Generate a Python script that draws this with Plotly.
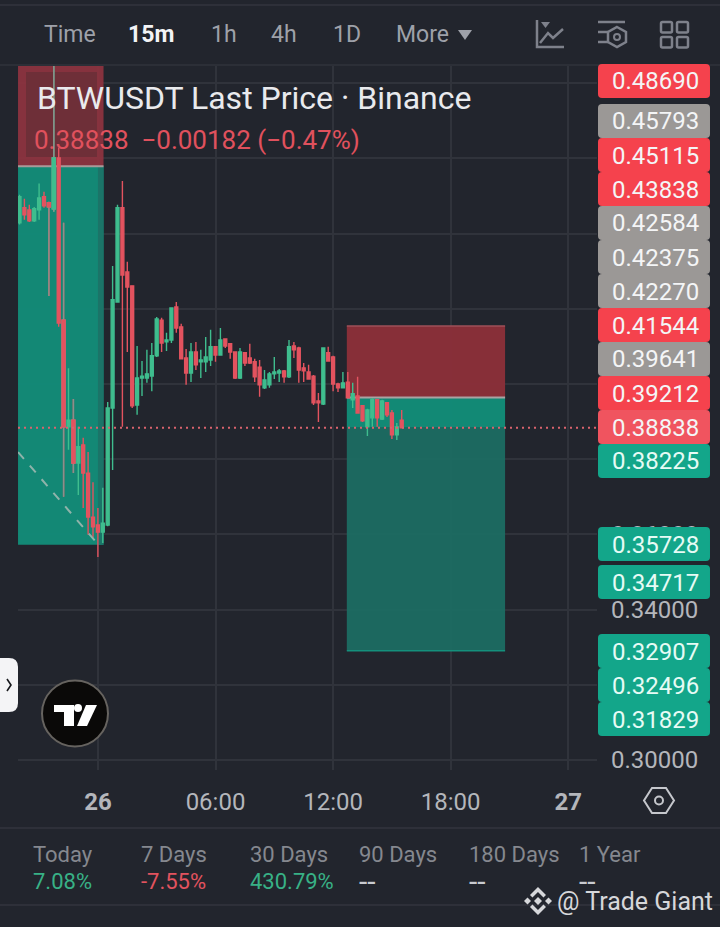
import plotly.graph_objects as go

W, H = 720, 927

# ---------- data ----------
idx = list(range(-16, 63))
opens = [.4429,.4469,.4463,.4434,.4463,.4498,.4482,.4466,.4601,.4170,.3886,.3904,.3790,.3838,.3763,.3646,.3625,.3606,.3625,.3936,.4218,.4469,.4298,.4261,.3944,.4016,.4016,.4021,.4075,.4170,.4112,.4117,.4205,.4152,.4069,.4029,.4085,.4059,.4059,.4064,.4099,.4077,.4120,.4107,.4085,.4016,.4083,.4069,.4059,.4045,.3990,.3998,.4027,.4029,.4035,.4019,.4101,.4096,.4043,.4032,.4021,.3955,.3947,.4083,.4072,.4000,.3990,.4005,.3958,.3968,.3942,.3886,.3910,.3958,.3907,.3950,.3923,.3865,.3904]
highs = [.4503,.4493,.4477,.4471,.4533,.4511,.4485,.4869,.4628,.4429,.4042,.3960,.3886,.3857,.3819,.3739,.3670,.3724,.3952,.4314,.4477,.4540,.4325,.4261,.4101,.4061,.4091,.4109,.4178,.4176,.4136,.4202,.4218,.4160,.4093,.4109,.4112,.4091,.4125,.4144,.4101,.4149,.4122,.4109,.4085,.4096,.4083,.4107,.4067,.4064,.4037,.4032,.4072,.4040,.4037,.4117,.4112,.4099,.4056,.4051,.4024,.3976,.4096,.4099,.4075,.4003,.4032,.4032,.4003,.4019,.3944,.3934,.3963,.3960,.3958,.3952,.3931,.3896,.3931]
lows = [.4424,.4437,.4431,.4431,.4437,.4469,.4234,.4458,.4152,.3700,.3825,.3763,.3705,.3670,.3599,.3591,.3540,.3577,.3622,.3771,.4216,.3886,.4085,.3936,.3918,.3968,.4003,.3981,.4072,.4085,.4088,.4109,.4136,.4067,.3998,.4005,.4037,.4016,.4032,.4048,.4059,.4077,.4096,.4067,.4013,.4013,.4048,.4053,.4005,.3966,.3987,.3990,.4013,.4005,.4003,.4016,.4069,.4003,.4005,.4011,.3944,.3899,.3944,.4059,.3981,.3979,.3990,.3963,.3936,.3923,.3899,.3862,.3886,.3886,.3904,.3912,.3854,.3851,.3883]
closes = [.4498,.4450,.4434,.4466,.4495,.4474,.4471,.4601,.4162,.3886,.3904,.3790,.3833,.3763,.3646,.3620,.3606,.3630,.3936,.4224,.4469,.4290,.4258,.3942,.4016,.4021,.4027,.4075,.4173,.4109,.4117,.4202,.4149,.4067,.4029,.4085,.4051,.4064,.4072,.4099,.4077,.4117,.4101,.4085,.4016,.4085,.4056,.4056,.4019,.3998,.4011,.4027,.4032,.4035,.4019,.4099,.4091,.4037,.4035,.4013,.3950,.3950,.4096,.4061,.4000,.3990,.4003,.3963,.3974,.3923,.3902,.3931,.3958,.3910,.3955,.3918,.3865,.3886,.38838]
muted_idx = [-10, -9, -7, -5]   # candles whose wicks are washed out by the zones

trend_x = [-16.3, 0.0]
trend_y = [.3819, .3574]

last_price = .38838

zone_a_left, zone_a_right = -16.3, 1.15
zone_a_strip = 0.0
zone_a_stop, zone_a_entry, zone_a_target = .4869, .45793, .35728
zone_a_inner = (-14.67, -0.18, .46037, .48298)
zone_b_left, zone_b_right = 50.8, 83.1
zone_b_stop, zone_b_entry, zone_b_target = .41544, .39641, .32907

x_tick_vals = [0, 24, 48, 72, 96]
x_tick_text = ["<b>26</b>", "06:00", "12:00", "18:00", "<b>27</b>"]
y_tick_vals = [.30, .32, .34, .36, .38, .40, .42, .44, .46, .48]
y_tick_text = ["0.30000", "", "0.34000", "0.36000", "", "", "", "", "", ""]

price_labels = ["0.48690","0.45793","0.45115","0.43838","0.42584","0.42375","0.42270","0.41544","0.39641","0.39212","0.38838","0.38225","0.35728","0.34717","0.32907","0.32496","0.31829"]
price_kinds  = ["r","g","r","r","g","g","g","r","g","r","p","t","t","t","t","t","t"]
price_tops   = [64,104,138,172,206,240,274,308,342,376,410,444,527,565,634,668,702]

periods = ["Today","7 Days","30 Days","90 Days","180 Days","1 Year"]
period_values = ["7.08%","-7.55%","430.79%","--","--","--"]
period_x = [33,141,250,359,469,579]
period_colors = ["#38b186","#e2535f","#38b186","#c9cbd1","#c9cbd1","#c9cbd1"]

intervals = ["Time","15m","1h","4h","1D","More"]
interval_x = [44,128,211,271,333,396]

# ---------- styling ----------
BG = "#22252d"
GRID = "#30333b"
GREEN = "#3fbd8e"
RED = "#e3535f"
MUTED = "#8d8f8b"
KIND = {"r": "#f5424d", "g": "#9b9896", "p": "#f0545f", "t": "#13a68a"}

PX0, PX1, PY0, PY1 = 18, 597, 65, 770
PER_CANDLE = 4.9
PER_UNIT = 3760.0
X_ZERO = 97.9
x_range = [(PX0 - X_ZERO) / PER_CANDLE, (PX1 - X_ZERO) / PER_CANDLE]
y_range = [.30 - (PY1 - 760) / PER_UNIT, .30 + (760 - PY0) / PER_UNIT]


def fx(x):
    return x / W


def fy(y):
    return 1 - y / H


def path_of(points, close=True):
    s = "M" + " L".join(f"{fx(x):.5f},{fy(y):.5f}" for x, y in points)
    return s + (" Z" if close else "")


def rrect(x0, y0, x1, y1, r):
    return (f"M{fx(x0+r):.5f},{fy(y0):.5f} L{fx(x1-r):.5f},{fy(y0):.5f} Q{fx(x1):.5f},{fy(y0):.5f} {fx(x1):.5f},{fy(y0+r):.5f} "
            f"L{fx(x1):.5f},{fy(y1-r):.5f} Q{fx(x1):.5f},{fy(y1):.5f} {fx(x1-r):.5f},{fy(y1):.5f} "
            f"L{fx(x0+r):.5f},{fy(y1):.5f} Q{fx(x0):.5f},{fy(y1):.5f} {fx(x0):.5f},{fy(y1-r):.5f} "
            f"L{fx(x0):.5f},{fy(y0+r):.5f} Q{fx(x0):.5f},{fy(y0):.5f} {fx(x0+r):.5f},{fy(y0):.5f} Z")


shapes, annos = [], []


def pshape(path, fill=None, line=None, width=0, layer="above"):
    shapes.append(dict(type="path", xref="paper", yref="paper", path=path, layer=layer,
                       fillcolor=fill if fill else "rgba(0,0,0,0)",
                       line=dict(color=line if line else "rgba(0,0,0,0)", width=width)))


def circle(cx, cy, r, fill=None, line=None, width=0):
    shapes.append(dict(type="circle", xref="paper", yref="paper", x0=fx(cx - r), x1=fx(cx + r),
                       y0=fy(cy + r), y1=fy(cy - r), layer="above",
                       fillcolor=fill if fill else "rgba(0,0,0,0)",
                       line=dict(color=line if line else "rgba(0,0,0,0)", width=width)))


def hline(x0, x1, y, color, width=1):
    shapes.append(dict(type="line", xref="paper", yref="paper", x0=fx(x0), x1=fx(x1), y0=fy(y), y1=fy(y),
                       line=dict(color=color, width=width), layer="above"))


def zone(x0, x1, y0, y1, color):
    shapes.append(dict(type="rect", xref="x", yref="y", x0=x0, x1=x1, y0=y0, y1=y1, fillcolor=color,
                       line=dict(width=0), layer="between"))


def edge(x0, x1, y, color, width=1.5):
    shapes.append(dict(type="line", xref="x", yref="y", x0=x0, x1=x1, y0=y, y1=y,
                       line=dict(color=color, width=width), layer="between"))


def text(x, y, s, size, color, anchor="left", weight=None):
    t = f"<b>{s}</b>" if weight else s
    annos.append(dict(xref="paper", yref="paper", x=fx(x), y=fy(y), text=t, showarrow=False,
                      xanchor=anchor, yanchor="middle", xshift=-2.5 if anchor == "left" else 0,
                      font=dict(family="Roboto", size=size, color=color)))


# zones
zone(zone_a_left, zone_a_right, zone_a_entry, zone_a_stop, "rgba(138,51,64,0.96)")
zone(zone_a_inner[0], zone_a_inner[1], zone_a_inner[2], zone_a_inner[3], "#6e2f38")
zone(zone_a_left, zone_a_right, zone_a_target, zone_a_entry, "rgba(19,139,120,0.97)")
zone(zone_a_strip, zone_a_right, zone_a_target, zone_a_entry, "#1b7468")
edge(zone_a_left, zone_a_right, zone_a_entry, "#a89a9a", 2)
zone(zone_b_left, zone_b_right, zone_b_entry, zone_b_stop, "rgba(138,48,57,0.97)")
edge(zone_b_left, zone_b_right, zone_b_stop, "#9e5058")
zone(zone_b_left, zone_b_right, last_price, zone_b_entry, "rgba(18,140,120,0.97)")
zone(zone_b_left, zone_b_right, zone_b_target, last_price, "rgba(28,107,98,0.96)")
edge(zone_b_left, zone_b_right, zone_b_entry, "#a9a3a3", 2)
edge(zone_b_left, zone_b_right, zone_b_target, "#14907c")

# last price line
shapes.append(dict(type="line", xref="paper", yref="y", x0=fx(PX0), x1=fx(PX1), y0=last_price, y1=last_price,
                   line=dict(color="#d9636e", width=2, dash="2px,4px"), layer="above"))

# separators
for yy in (5, 828, 905):
    hline(0, W, yy, "#3a3d46", 1)
hline(0, W, 65, "#2c2f37", 2)

# price labels
for lab, kind, top in zip(price_labels, price_kinds, price_tops):
    pshape(rrect(598, top, 710, top + 34, 4), fill=KIND[kind])
    text(655, top + 17.5, lab, 24, "#f4f5f6" if kind != "t" else "#e6fbf5", anchor="center")

# top bar
for name, x in zip(intervals, interval_x):
    bold = name == "15m"
    text(x, 35, name, 23, "#f2f3f5" if bold else "#9ea1a9", weight=bold)
pshape(path_of([(458, 30), (472, 30), (465, 40)]), fill="#9ea1a9")
ICON = "#7e818b"
pshape(path_of([(537, 20), (537, 47), (564, 47)], False), line=ICON, width=2.5)
pshape(path_of([(541, 22), (550, 22), (545.5, 28)]), fill=ICON)
pshape(path_of([(540, 43), (548, 33), (553, 38), (563, 29)], False), line=ICON, width=2.5)
hline(598, 625, 22, ICON, 2.5)
hline(598, 608, 32, ICON, 2.5)
hline(598, 608, 42, ICON, 2.5)
pshape(path_of([(617, 27), (626, 32), (626, 42), (617, 47), (608, 42), (608, 32)]), line=ICON, width=2.5)
circle(617, 37, 3, line=ICON, width=2)
for bx in (661, 677):
    for by in (22, 37):
        pshape(rrect(bx, by, bx + 11, by + 10.5, 1.5), line=ICON, width=2.5)

# title
text(37, 98, "BTWUSDT Last Price · Binance", 32, "#e9eaed")
text(34, 140, "0.38838&nbsp;&nbsp;−0.00182 (−0.47%)", 26, "#e0515d")

# handle and logo
pshape(rrect(-10, 658, 18, 712, 9), fill="#f4f4f6")
pshape(path_of([(7, 679), (11, 685), (7, 691)], False), line="#17181c", width=1.6)
circle(75, 713.5, 33, fill="#0a0908", line="#66635f", width=2)
pshape(path_of([(54, 705), (74, 705), (74, 726), (64, 726), (64, 712), (54, 712)]), fill="#ffffff")
circle(78, 708, 4, fill="#ffffff")
pshape(path_of([(86, 705), (97, 705), (87, 726), (77, 726)]), fill="#ffffff")

# settings hexagon
HEX = "#c5c7cc"
pshape(path_of([(652, 788), (666, 788), (674, 800.5), (666, 813), (652, 813), (644, 800.5)]), line=HEX, width=2)
circle(659, 800.5, 4, line=HEX, width=2)

# period stats
for name, val, x, col in zip(periods, period_values, period_x, period_colors):
    text(x, 854, name, 22, "#85888f")
    text(x, 881, val, 30 if val == "--" else 22, col)

# watermark
WM = "#d6d7da"
cx, cy = 538, 901
pshape(path_of([(cx - 4, cy), (cx, cy - 4), (cx + 4, cy), (cx, cy + 4)]), fill=WM)
pshape(path_of([(cx - 14, cy), (cx - 10.5, cy - 3.5), (cx - 7, cy), (cx - 10.5, cy + 3.5)]), fill=WM)
pshape(path_of([(cx + 14, cy), (cx + 10.5, cy - 3.5), (cx + 7, cy), (cx + 10.5, cy + 3.5)]), fill=WM)
pshape(path_of([(cx, cy - 14), (cx + 8, cy - 6), (cx + 5.5, cy - 3.5), (cx, cy - 9), (cx - 5.5, cy - 3.5), (cx - 8, cy - 6)]), fill=WM)
pshape(path_of([(cx, cy + 14), (cx + 8, cy + 6), (cx + 5.5, cy + 3.5), (cx, cy + 9), (cx - 5.5, cy + 3.5), (cx - 8, cy + 6)]), fill=WM)
text(557, 901, "@ Trade Giant", 25, WM)

# ---------- traces ----------
fig = go.Figure()
fig.add_trace(go.Scatter(x=trend_x, y=trend_y, mode="lines", hoverinfo="skip",
                         line=dict(color="#8fb3aa", width=2, dash="dash"), showlegend=False))

muted = [i for i, v in enumerate(idx) if v in muted_idx]


def pick(arr, rows):
    return [arr[r] for r in rows]


def candles(rows, up_line, down_line, wick=True):
    o, c = pick(opens, rows), pick(closes, rows)
    h = pick(highs, rows) if wick else [max(a, b) for a, b in zip(o, c)]
    l = pick(lows, rows) if wick else [min(a, b) for a, b in zip(o, c)]
    return go.Candlestick(x=pick(idx, rows), open=o, high=h, low=l, close=c, showlegend=False,
                          whiskerwidth=0, hoverinfo="skip",
                          increasing=dict(line=dict(color=up_line, width=1.4), fillcolor=GREEN),
                          decreasing=dict(line=dict(color=down_line, width=1.4), fillcolor=RED))


fig.add_trace(candles(list(range(len(idx))), GREEN, RED))
fig.add_trace(candles(muted, MUTED, MUTED))
fig.add_trace(candles(muted, GREEN, RED, wick=False))

fig.update_layout(
    width=W, height=H, margin=dict(l=0, r=0, t=0, b=0), paper_bgcolor=BG, plot_bgcolor=BG,
    showlegend=False, hovermode=False, shapes=shapes, annotations=annos, boxgap=0.15,
    font=dict(family="Roboto"),
    xaxis=dict(domain=[fx(PX0), fx(PX1)], range=x_range, tickmode="array", tickvals=x_tick_vals,
               ticktext=x_tick_text, showgrid=True, gridcolor=GRID, gridwidth=1.5, zeroline=False,
               showline=False, ticks="", rangeslider=dict(visible=False), ticklabelstandoff=15,
               tickfont=dict(family="Roboto", size=24, color="#b4b6bb"), automargin=False),
    yaxis=dict(domain=[fy(PY1), fy(PY0)], range=y_range, side="right", tickmode="array", tickvals=y_tick_vals,
               ticktext=y_tick_text, showgrid=True, gridcolor=GRID, gridwidth=1.5, zeroline=False, showline=False,
               ticks="", ticklabelstandoff=13, tickfont=dict(family="Roboto", size=24, color="#b4b6bb"),
               automargin=False),
)

fig.write_html("out.html", config=dict(displayModeBar=False),
               post_script="document.body.style.margin='0';document.body.style.background='%s';" % BG)
